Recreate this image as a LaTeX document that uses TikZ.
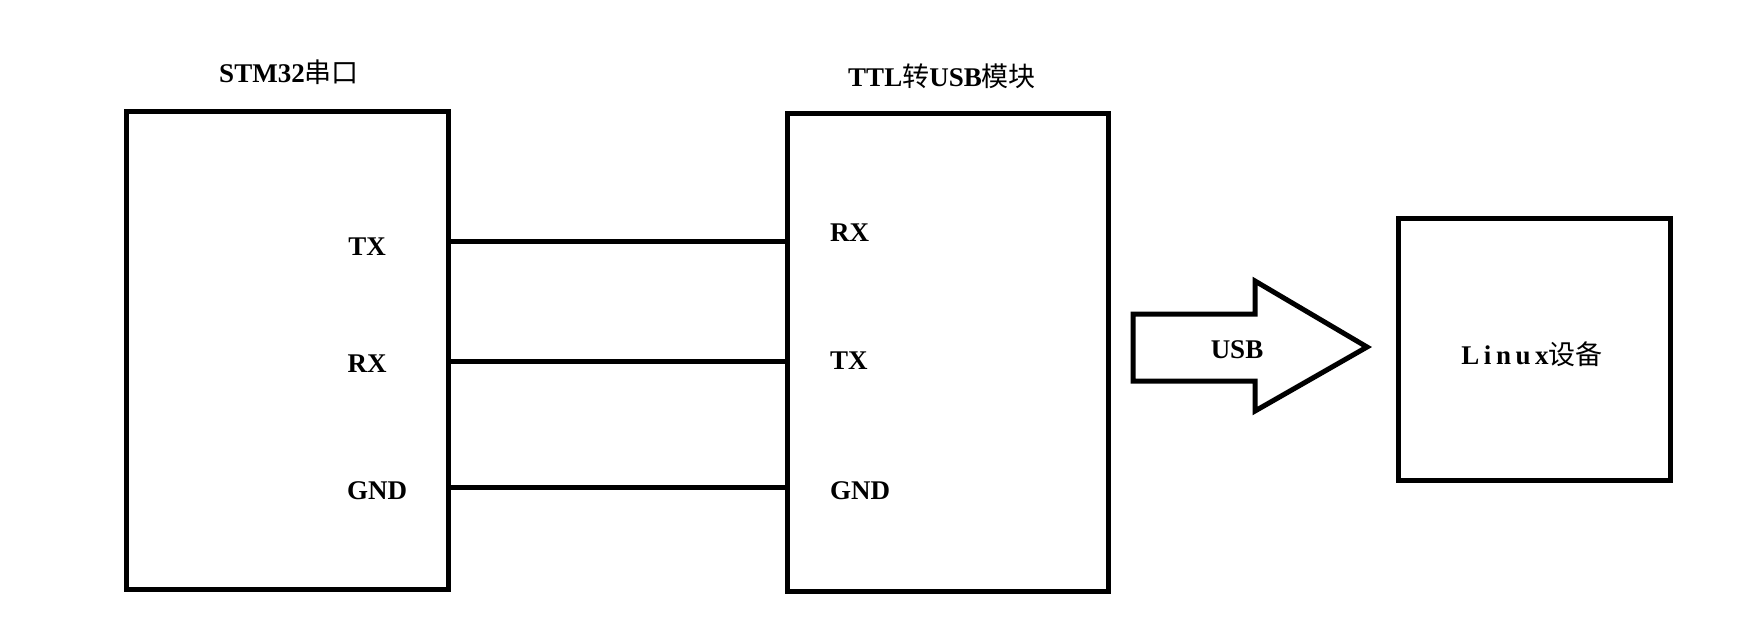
\documentclass[tikz,border=0pt]{standalone}
\usepackage{fontspec}
\setmainfont{Liberation Serif}
\newfontfamily\cjk{Noto Sans CJK SC}
\begin{document}
\begin{tikzpicture}[x=1pt,y=-1pt,
  box/.style={draw,line width=5pt},
  lbl/.style={font=\fontsize{27}{30}\selectfont\bfseries,inner sep=0pt},
  wire/.style={line width=5pt}]
\useasboundingbox (0,0) rectangle (1742,638);
\draw[box] (126,111) rectangle (448,589);
\draw[box] (787,113) rectangle (1108,591);
\draw[box] (1398,218) rectangle (1670,480);
\node[lbl] (t1) at (289,72) {STM32{\cjk\mdseries 串口}};
\node[lbl] (t2) at (942,76) {TTL{\cjk\mdseries 转}USB{\cjk\mdseries 模块}};
\node[lbl] (l1) at (367,247) {TX};
\node[lbl] (l2) at (367,364) {RX};
\node[lbl] (l3) at (377,491) {GND};
\node[lbl,anchor=west] (r1) at (830,233) {RX};
\node[lbl,anchor=west] (r2) at (830,361) {TX};
\node[lbl,anchor=west] (r3) at (830,491) {GND};
\coordinate (a1) at (448,241); \coordinate (b1) at (787,241);
\coordinate (a2) at (448,361); \coordinate (b2) at (787,361);
\coordinate (a3) at (448,487); \coordinate (b3) at (787,487);
\draw[wire] (a1) -- (b1); \draw[wire] (a2) -- (b2); \draw[wire] (a3) -- (b3);
\draw[line width=5pt,line join=miter] (1133,314) -- (1255,314) -- (1255,281) -- (1367,347) -- (1255,411) -- (1255,381) -- (1133,381) -- cycle;
\node[lbl] (usb) at (1237,350) {USB};
\node[lbl] (lx) at (1532,354) {L\,i\,n\,u\,x{\cjk\mdseries 设备}};
\end{tikzpicture}
\end{document}
